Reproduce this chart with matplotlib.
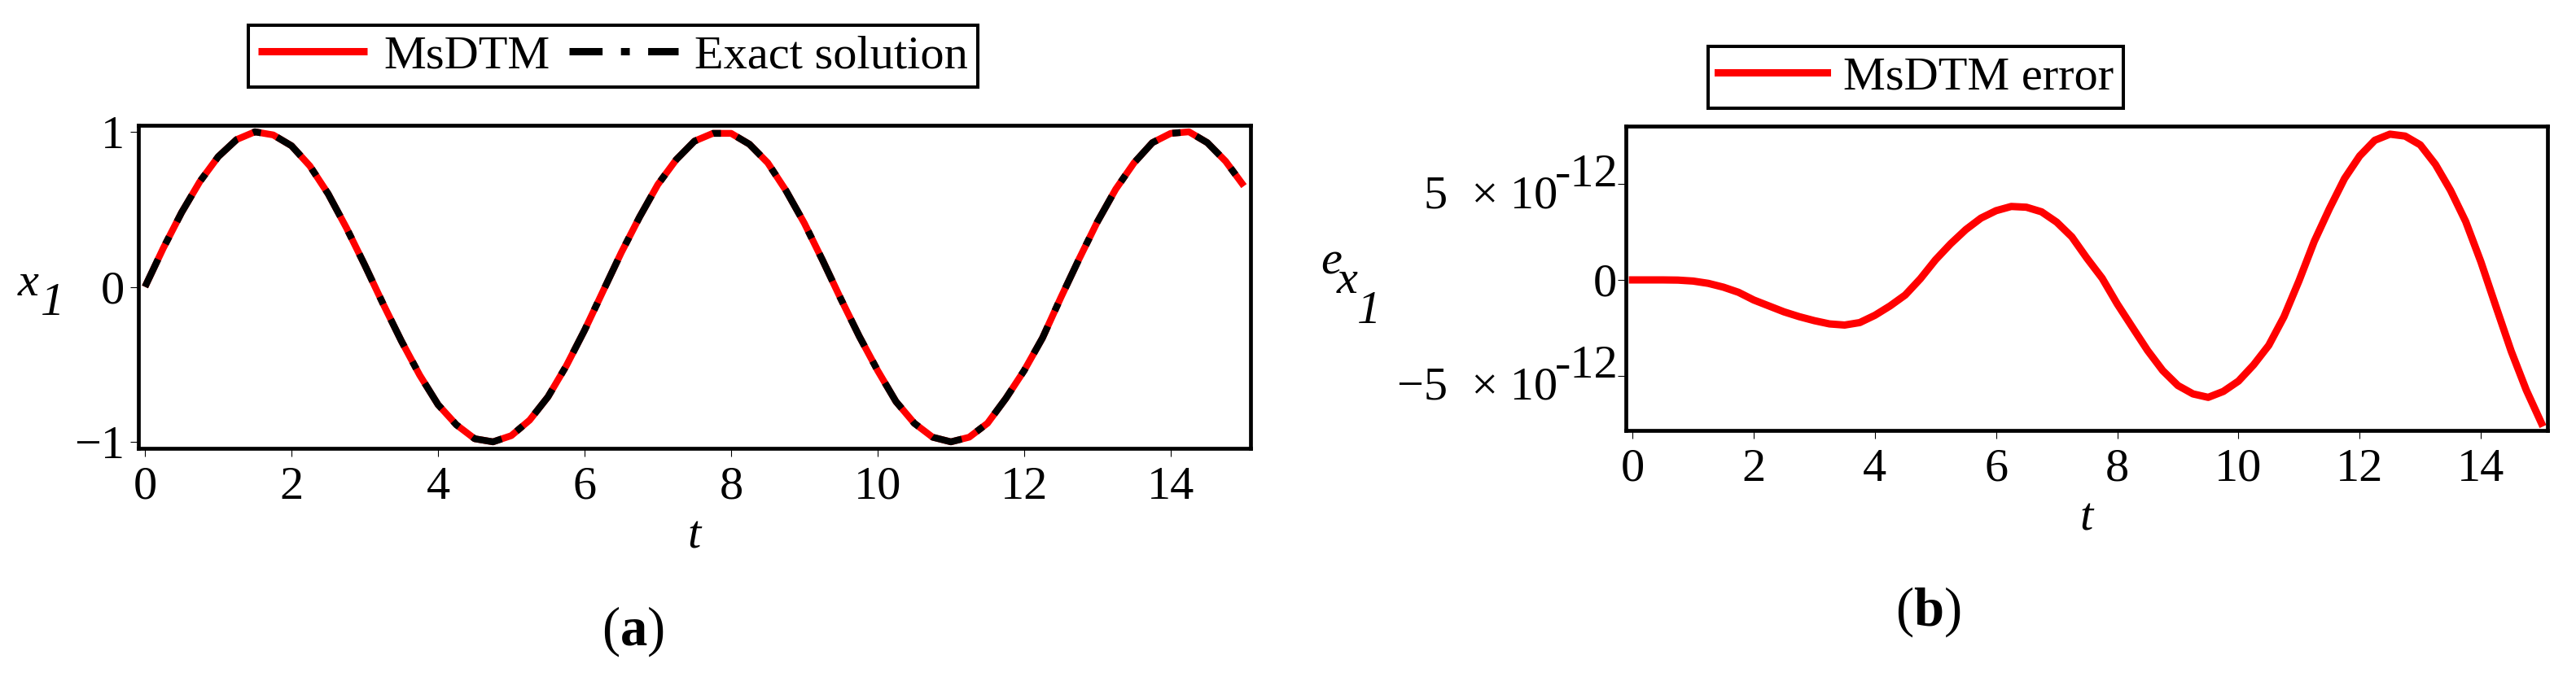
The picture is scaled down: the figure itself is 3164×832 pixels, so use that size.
import numpy as np
import matplotlib
matplotlib.use('Agg')
import matplotlib.pyplot as plt

plt.rcParams['font.family'] = ['Liberation Serif', 'DejaVu Serif']
plt.rcParams['mathtext.fontset'] = 'custom'
plt.rcParams['mathtext.rm'] = 'Liberation Serif'
plt.rcParams['mathtext.it'] = 'Liberation Serif:italic'
plt.rcParams['mathtext.bf'] = 'Liberation Serif:bold'

# data, t = 0 .. 15 in steps of 0.25
t = np.arange(61) * 0.25

# panel (a): MsDTM and exact solution coincide
x1 = [0.00, 0.25, 0.48, 0.68, 0.84, 0.95, 1.00, 0.98, 0.91, 0.78,
      0.60, 0.38, 0.14, -0.11, -0.35, -0.57, -0.76, -0.89, -0.98, -1.00,
      -0.96, -0.86, -0.71, -0.51, -0.28, -0.03, 0.22, 0.45, 0.66, 0.82,
      0.94, 0.99, 0.99, 0.92, 0.80, 0.62, 0.41, 0.17, -0.08, -0.32,
      -0.54, -0.74, -0.88, -0.97, -1.00, -0.97, -0.88, -0.72, -0.54, -0.33,
      -0.07, 0.18, 0.42, 0.63, 0.80, 0.93, 0.99, 1.00, 0.93, 0.81,
      0.65]
x1_exact = list(x1)

# panel (b): MsDTM error, in units of 1e-12
err_e12 = [0.0, 0.0, 0.0, -0.01, -0.06, -0.18, -0.38, -0.65, -1.05, -1.36,
           -1.67, -1.92, -2.13, -2.30, -2.36, -2.23, -1.85, -1.36, -0.79, 0.06,
           1.05, 1.89, 2.63, 3.23, 3.62, 3.84, 3.80, 3.56, 3.02, 2.25,
           1.13, 0.09, -1.26, -2.48, -3.69, -4.74, -5.52, -5.96, -6.14, -5.83,
           -5.29, -4.44, -3.42, -1.93, -0.04, 2.01, 3.72, 5.30, 6.48, 7.30,
           7.62, 7.52, 7.06, 6.04, 4.68, 3.05, 0.95, -1.40, -3.72, -5.76,
           -7.49]
err = np.array(err_e12) * 1e-12

xticks = [0, 2, 4, 6, 8, 10, 12, 14]

W, H = 3164, 832
FS = 42


def fx(px):
    return px / W


def fy(py):
    return 1 - py / H


fig = plt.figure(figsize=(W / 100, H / 100), dpi=100)

ax1 = fig.add_axes([fx(170), fy(551), 1366 / W, 397 / H])
ax2 = fig.add_axes([fx(1997), fy(529), 1132 / W, 374 / H])

for ax in (ax1, ax2):
    for s in ax.spines.values():
        s.set_linewidth(3.4)
    ax.tick_params(direction='out', length=7.2, width=0.8, labelsize=FS)
    ax.tick_params(axis='x', pad=8.5)
    ax.set_xticks(xticks)

# ---- panel (a)
ax1.plot(t, x1, color='red', lw=6, solid_capstyle='butt', label='MsDTM')
ax1.plot(t, x1_exact, color='black', lw=6, linestyle=(0, (4.5, 2.5, 1.2, 2.5)),
         label='Exact solution')
ax1.set_xlim(-0.09, 15.09)
ax1.set_ylim(-1.042, 1.042)
ax1.set_yticks([-1, 0, 1])
ax1.set_yticklabels(['\u22121', '0', '1'])
ax1.tick_params(axis='y', pad=5)

leg1 = ax1.legend(loc='center', bbox_to_anchor=(fx(753), fy(69)),
                  bbox_transform=fig.transFigure, ncol=2, fontsize=FS,
                  handlelength=2.3, handletextpad=0.35, columnspacing=0.4,
                  borderpad=0.2, fancybox=False, framealpha=1,
                  edgecolor='black')
leg1.get_frame().set_linewidth(2.9)
for ln in leg1.get_lines():
    ln.set_linewidth(6.5)

ax1.set_xlabel('t', fontsize=FS, fontstyle='italic', va='center')
ax1.xaxis.set_label_coords(0.5, (551 - 660) / 397)

fig.text(fx(22), fy(363), 'x', fontsize=FS, fontstyle='italic', ha='left', va='baseline')
fig.text(fx(50), fy(387), '1', fontsize=FS, fontstyle='italic', ha='left', va='baseline')

fig.text(fx(777), fy(776), r'($\mathbf{a}$)', fontsize=48, ha='center', va='center')

# ---- panel (b)
ax2.plot(t, err, color='red', lw=6.5, label='MsDTM error')
ax2.set_xlim(-0.11, 15.1)
ax2.set_ylim(-7.87e-12, 8.04e-12)
ax2.set_yticks([-5e-12, 0, 5e-12])
ax2.set_yticklabels(['', '0', ''])
ax2.tick_params(axis='y', pad=1)

for v, main in [(5e-12, '5  \u00d7 10'), (-5e-12, '\u22125  \u00d7 10')]:
    ax2.annotate(main, xy=(0, v), xycoords=('axes fraction', 'data'),
                 xytext=(-60.5, -21), textcoords='offset points',
                 ha='right', va='baseline', fontsize=FS)
    ax2.annotate('-12', xy=(0, v), xycoords=('axes fraction', 'data'),
                 xytext=(-6.5, -1.8), textcoords='offset points',
                 ha='right', va='baseline', fontsize=FS)

leg2 = ax2.legend(loc='center', bbox_to_anchor=(fx(2353), fy(95)),
                  bbox_transform=fig.transFigure, fontsize=FS,
                  handlelength=2.3, handletextpad=0.35,
                  borderpad=0.2, fancybox=False, framealpha=1,
                  edgecolor='black')
leg2.get_frame().set_linewidth(2.9)

ax2.set_xlabel('t', fontsize=FS, fontstyle='italic', va='center')
ax2.xaxis.set_label_coords(0.5, (529 - 638) / 374)

fig.text(fx(1622), fy(337), 'e', fontsize=FS, fontstyle='italic', ha='left', va='baseline')
fig.text(fx(1642), fy(360), 'x', fontsize=FS, fontstyle='italic', ha='left', va='baseline')
fig.text(fx(1667), fy(397), '1', fontsize=FS, fontstyle='italic', ha='left', va='baseline')

fig.text(fx(2368), fy(752), r'($\mathbf{b}$)', fontsize=48, ha='center', va='center')

fig.savefig('out.png', dpi=100)
